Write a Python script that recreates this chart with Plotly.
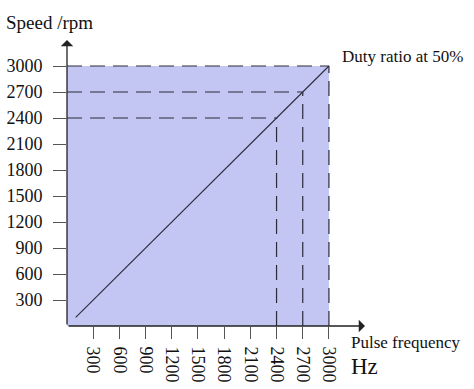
import plotly.graph_objects as go

ticks = [300, 600, 900, 1200, 1500, 1800, 2100, 2400, 2700, 3000]
tick_labels = [str(t) for t in ticks]
line_x = [100, 3000]
line_y = [100, 3000]
marked = [2400, 2700, 3000]

X_MAX = 3413
Y_MAX = 3300
FONT = "Liberation Serif"
DARK = "#2a2a3a"

fig = go.Figure()
fig.add_trace(go.Scatter(x=line_x, y=line_y, mode="lines",
                         line=dict(color=DARK, width=1.1), showlegend=False,
                         hoverinfo="skip"))

fig.add_shape(type="rect", x0=0, y0=0, x1=max(ticks), y1=max(ticks),
              fillcolor="#c3c6f3", line=dict(width=0), layer="below")
for v in marked:
    fig.add_shape(type="line", x0=0, y0=v, x1=v, y1=v,
                  line=dict(color=DARK, width=1.2, dash="15px,8px"))
    fig.add_shape(type="line", x0=v, y0=0, x1=v, y1=v,
                  line=dict(color=DARK, width=1.2, dash="15px,8px"))

# axis arrows
for hx, hy in [(X_MAX, 0), (0, Y_MAX)]:
    fig.add_annotation(x=hx, y=hy, ax=0, ay=0, xref="x", yref="y", axref="x", ayref="y",
                       showarrow=True, arrowhead=1, arrowsize=1.6, arrowwidth=1.3,
                       arrowcolor="#222222", text="")

# texts
fig.add_annotation(text="Speed /rpm", xref="paper", yref="paper",
                   x=-63/298, y=(326-22)/286, xanchor="left", yanchor="middle",
                   showarrow=False, font=dict(family=FONT, size=19, color="#111"))
fig.add_annotation(text="Duty ratio at 50%", xref="paper", yref="paper",
                   x=(340-67)/298, y=(326-56)/286, xanchor="left", yanchor="middle",
                   showarrow=False, font=dict(family=FONT, size=17, color="#111"))
fig.add_annotation(text="Pulse frequency", xref="paper", yref="paper",
                   x=(349-67)/298, y=(326-342)/286, xanchor="left", yanchor="middle",
                   showarrow=False, font=dict(family=FONT, size=17, color="#111"))
fig.add_annotation(text="Hz", xref="paper", yref="paper",
                   x=(349-67)/298, y=(326-366)/286, xanchor="left", yanchor="middle",
                   showarrow=False, font=dict(family=FONT, size=23, color="#111"))

fig.update_layout(
    width=474, height=389,
    margin=dict(l=67, r=109, t=40, b=63, autoexpand=False),
    paper_bgcolor="white", plot_bgcolor="white",
    showlegend=False,
    xaxis=dict(range=[0, X_MAX], tickvals=ticks, ticktext=tick_labels,
               ticks="outside", ticklen=12, tickwidth=1.3, tickcolor="#555",
               tickangle=90, showgrid=False, zeroline=False, showline=False,
               ticklabelstandoff=4, automargin=False,
               tickfont=dict(family=FONT, size=18, color="#111"), fixedrange=True),
    yaxis=dict(range=[0, Y_MAX], tickvals=ticks, ticktext=tick_labels,
               ticks="outside", ticklen=13, tickwidth=1.3, tickcolor="#555",
               showgrid=False, zeroline=False, showline=False,
               ticklabelstandoff=7, automargin=False,
               tickfont=dict(family=FONT, size=18, color="#111"), fixedrange=True),
)

fig.write_html("out.html", config={"displayModeBar": False},
               post_script="document.body.style.margin='0';document.body.style.overflow='hidden';")
